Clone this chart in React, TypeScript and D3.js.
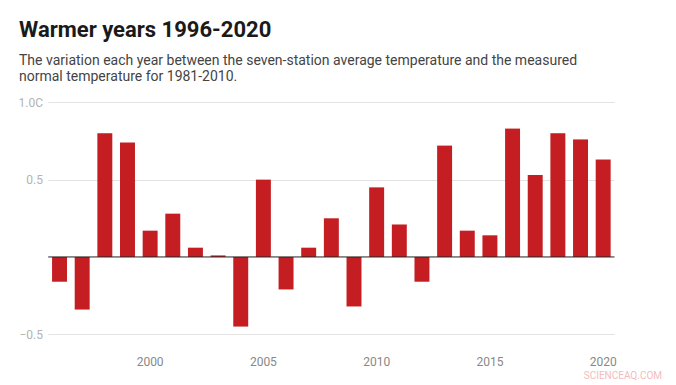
import React, { useEffect, useRef } from 'react';
import * as d3 from 'd3';

const years = [
  1996, 1997, 1998, 1999, 2000, 2001, 2002, 2003, 2004, 2005, 2006, 2007, 2008,
  2009, 2010, 2011, 2012, 2013, 2014, 2015, 2016, 2017, 2018, 2019, 2020,
];
const anomalies = [
  -0.16, -0.34, 0.8, 0.74, 0.17, 0.28, 0.06, 0.01, -0.45, 0.5, -0.21, 0.06, 0.25,
  -0.32, 0.45, 0.21, -0.16, 0.72, 0.17, 0.14, 0.83, 0.53, 0.8, 0.76, 0.63,
];
const yTicks = [1.0, 0.5, -0.5];
const xTickYears = [2000, 2005, 2010, 2015, 2020];

const App: React.FC = () => {
  const svgRef = useRef<SVGSVGElement>(null);

  useEffect(() => {
    if (!svgRef.current) return;
    const svg = d3.select(svgRef.current);
    svg.selectAll('*').remove();

    const width = 676;
    const height = 385;
    const left = 48.2;
    const right = 614.5;

    svg.append('rect').attr('width', width).attr('height', height).attr('fill', '#fff');

    // Title + subtitle
    svg.append('text')
      .attr('x', 19)
      .attr('y', 36.5)
      .attr('font-size', 22)
      .attr('font-weight', 700)
      .attr('fill', '#1a1a1a')
      .text('Warmer years 1996-2020');

    const sub = svg.append('text')
      .attr('x', 19)
      .attr('font-size', 14)
      .attr('fill', '#444');
    sub.append('tspan').attr('x', 19).attr('y', 65)
      .text('The variation each year between the seven-station average temperature and the measured');
    sub.append('tspan').attr('x', 19).attr('y', 81)
      .text('normal temperature for 1981-2010.');

    const x = d3.scaleBand<number>()
      .domain(years)
      .range([left, right])
      .paddingInner(0.34)
      .paddingOuter(0.17);

    const y = d3.scaleLinear()
      .domain([-0.5, 1.0])
      .range([334.3, 102.3]);

    const fmt = d3.format('.1f');

    // Gridlines
    const grid = svg.append('g');
    yTicks.forEach(t => {
      grid.append('line')
        .attr('x1', left)
        .attr('x2', right)
        .attr('y1', Math.round(y(t)) + 0.5)
        .attr('y2', Math.round(y(t)) + 0.5)
        .attr('stroke', '#e3e3e3')
        .attr('stroke-width', 1);
      grid.append('text')
        .attr('x', 43)
        .attr('y', y(t))
        .attr('dy', '0.35em')
        .attr('text-anchor', 'end')
        .attr('font-size', 12)
        .attr('fill', '#b3b3b3')
        .text(t === 1 ? fmt(t) + 'C' : fmt(t));
    });

    // Bars
    svg.append('g')
      .selectAll('rect')
      .data(years)
      .enter()
      .append('rect')
      .attr('x', d => x(d) as number)
      .attr('width', x.bandwidth())
      .attr('y', (d, i) => y(Math.max(0, anomalies[i])))
      .attr('height', (d, i) => Math.abs(y(anomalies[i]) - y(0)))
      .attr('fill', '#c41e22');

    // Zero line
    svg.append('line')
      .attr('x1', left)
      .attr('x2', right)
      .attr('y1', y(0))
      .attr('y2', y(0))
      .attr('stroke', '#222')
      .attr('stroke-width', 1);

    // X tick labels
    svg.append('g')
      .selectAll('text')
      .data(xTickYears)
      .enter()
      .append('text')
      .attr('x', d => (x(d) as number) + x.bandwidth() / 2)
      .attr('y', 366)
      .attr('text-anchor', 'middle')
      .attr('font-size', 12)
      .attr('fill', '#888')
      .text(d => String(d));

    // Watermark
    svg.append('text')
      .attr('x', 662)
      .attr('y', 379)
      .attr('text-anchor', 'end')
      .attr('font-size', 10)
      .attr('fill', '#f2bcbc')
      .text('SCIENCEAQ.COM');
  }, []);

  return (
    <svg
      ref={svgRef}
      width={676}
      height={385}
      style={{ position: 'absolute', left: 0, top: 0, fontFamily: 'Roboto, sans-serif' }}
    />
  );
};

export default App;
